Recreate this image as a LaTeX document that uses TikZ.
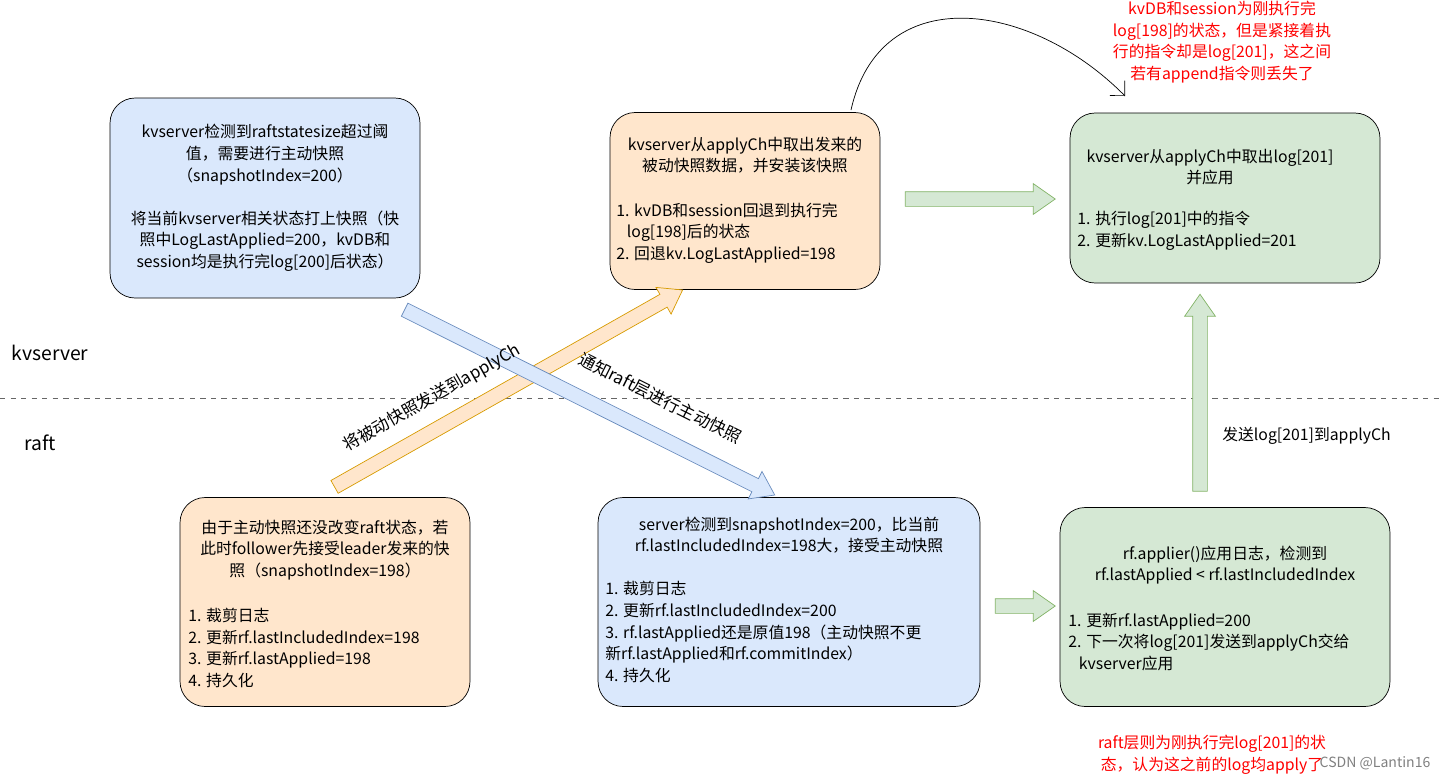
\documentclass[tikz,border=0pt]{standalone}
\usepackage{fontspec}
\setmainfont{Noto Sans CJK SC}
\usetikzlibrary{positioning,shapes.arrows,arrows.meta}
\definecolor{bluefill}{HTML}{DAE8FC}
\definecolor{blueline}{HTML}{6C8EBF}
\definecolor{orangefill}{HTML}{FFE6CC}
\definecolor{orangeline}{HTML}{D79B00}
\definecolor{greenfill}{HTML}{D5E8D4}
\definecolor{greenline}{HTML}{82B366}
\definecolor{notered}{HTML}{FF0000}
\tikzset{
	box/.style={draw=black, rounded corners=0.5cm, inner sep=0pt},
	txt/.style={align=center, inner sep=0pt, font=\fontsize{9}{12.3}\selectfont},
	lst/.style={align=left, anchor=west, inner sep=0pt, font=\fontsize{9}{12.3}\selectfont},
	lbl/.style={align=center, inner sep=0pt, font=\fontsize{9.6}{12}\selectfont},
	fat/.style={single arrow, draw=#1line, fill=#1fill, inner sep=0.14cm, minimum width=0.6cm,
		single arrow head extend=0.16cm, single arrow tip angle=70},
	note/.style={align=center, inner sep=0pt, text=notered, font=\fontsize{9}{12.3}\selectfont}
}
\begin{document}
\begin{tikzpicture}[x=0.02cm,y=-0.02cm]
	\useasboundingbox (0,0) rectangle (1442,778);
	%layers
	\draw [dashed, gray!80!black] (0,398) -- (1442,398);
	\node (kv) at (50,353) [font=\fontsize{11}{13}\selectfont] {kvserver};
	\node (rf) at (40,443) [font=\fontsize{11}{13}\selectfont] {raft};
	%boxes
	\node [box, fill=bluefill, minimum width=6.2cm, minimum height=4cm] (snap) at (265,198) {};
	\node [txt] (snapt) at (265,198) {kvserver检测到raftstatesize超过阈\\值，需要进行主动快照\\（snapshotIndex=200）\\[12.3pt]将当前kvserver相关状态打上快照（快\\照中LogLastApplied=200，kvDB和\\session均是执行完log[200]后状态）};

	\node [box, fill=orangefill, minimum width=5.4cm, minimum height=3.54cm] (inst) at (745,201) {};
	\node [txt] (instt) at (745,155) {kvserver从applyCh中取出发来的\\被动快照数据，并安装该快照};
	\node [lst] (instl) at (616,233) {1. kvDB和session回退到执行完\\\ \ \ log[198]后的状态\\2. 回退kv.LogLastApplied=198};

	\node [box, fill=greenfill, minimum width=6.2cm, minimum height=3.4cm] (app) at (1225,198) {};
	\node [txt] (appt) at (1210,167) {kvserver从applyCh中取出log[201]\\并应用};
	\node [lst] (appl) at (1077,231) {1. 执行log[201]中的指令\\2. 更新kv.LogLastApplied=201};

	\node [box, fill=orangefill, minimum width=5.8cm, minimum height=4.18cm] (foll) at (325,602) {};
	\node [txt] (follt) at (325,550) {由于主动快照还没改变raft状态，若\\此时follower先接受leader发来的快\\照（snapshotIndex=198）};
	\node [lst] (folll) at (188,648) {1. 裁剪日志\\2. 更新rf.lastIncludedIndex=198\\3. 更新rf.lastApplied=198\\4. 持久化};

	\node [box, fill=bluefill, minimum width=7.64cm, minimum height=4.18cm] (srv) at (789,602) {};
	\node [txt] (srvt) at (789,535) {server检测到snapshotIndex=200，比当前\\rf.lastIncludedIndex=198大，接受主动快照};
	\node [lst] (srvl) at (605,632) {1. 裁剪日志\\2. 更新rf.lastIncludedIndex=200\\3. rf.lastApplied还是原值198（主动快照不更\\新rf.lastApplied和rf.commitIndex）\\4. 持久化};

	\node [box, fill=greenfill, minimum width=6.6cm, minimum height=3.98cm] (apl) at (1225,607) {};
	\node [txt] (aplt) at (1225,565) {rf.applier()应用日志，检测到\\rf.lastApplied < rf.lastIncludedIndex};
	\node [lst] (apll) at (1068,642) {1. 更新rf.lastApplied=200\\2. 下一次将log[201]发送到applyCh交给\\\ \ \ kvserver应用};
	%fat arrows
	\node [fat=orange, minimum height=8cm, rotate=29.5] (send) at (504,391) {};
	\node [fat=blue, minimum height=8.28cm, rotate=-26.6] (tell) at (585,400) {};
	\node [fat=green, minimum height=3cm] (g1) at (975,199) {};
	\node [fat=green, minimum height=1.2cm] (g2) at (1020,606) {};
	\node [fat=green, minimum height=3.94cm, rotate=90] (g3) at (1200,398) {};
	\node [lbl, rotate=29.5] (sendt) at (432,398) {将被动快照发送到applyCh};
	\node [lbl, rotate=-26.6] (tellt) at (660,398) {通知raft层进行主动快照};
	\node [txt, anchor=west] (g3t) at (1222,436) {发送log[201]到applyCh};
	%notes
	\node [note] (n1) at (1222,42) {kvDB和session为刚执行完\\log[198]的状态，但是紧接着执\\行的指令却是log[201]，这之间\\若有append指令则丢失了};
	\node [note] (n2) at (1212,755) {raft层则为刚执行完log[201]的状\\态，认为这之前的log均apply了};
	\node [text=gray, font=\fontsize{8}{10}\selectfont] (wm) at (1375,763) {CSDN @Lantin16};
	\coordinate (c0) at (851,110);
	\coordinate (c1) at (1125,96);
	\draw [-{Straight Barb[length=6pt]}] (c0) .. controls (880,-20) and (1030,0) .. (c1);
\end{tikzpicture}
\end{document}
